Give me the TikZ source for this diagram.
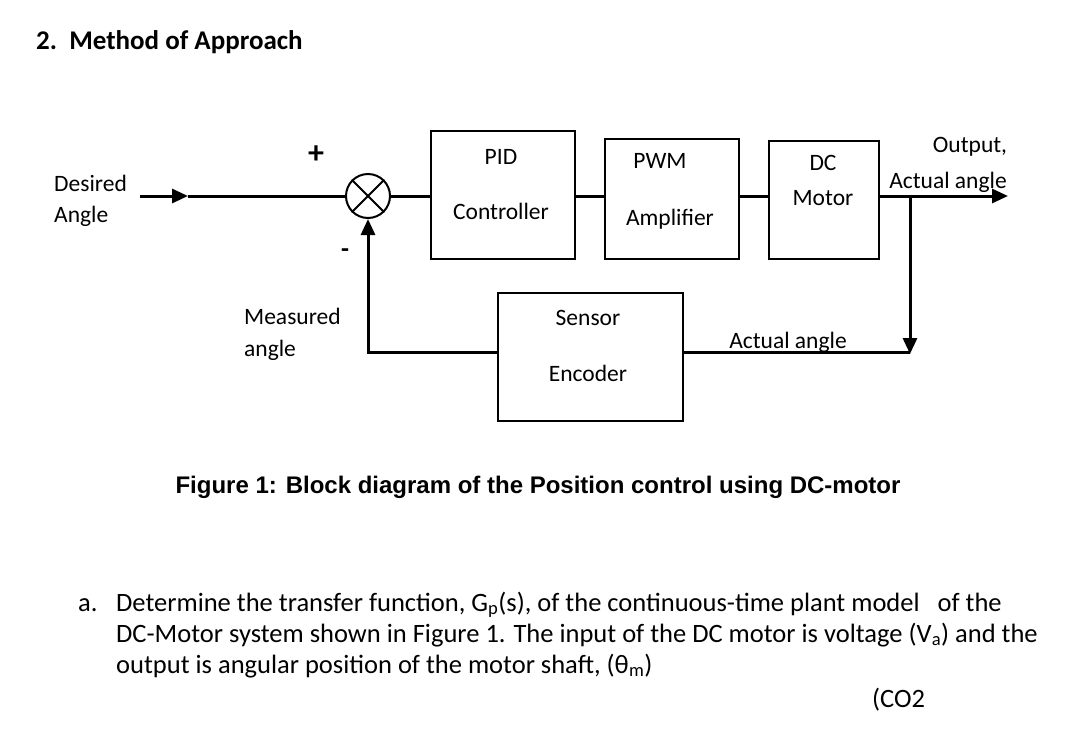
\documentclass[tikz,border=0pt]{standalone}
\usepackage{fontspec}
\setmainfont{Carlito}
\newfontfamily\arialf{Liberation Sans}
\usetikzlibrary{arrows.meta}
\begin{document}
\begin{tikzpicture}[x=1pt,y=-1pt,
  lbl/.style={font=\fontsize{23.5}{26}\selectfont,inner sep=0pt},
  blk/.style={draw,line width=1.5pt,anchor=north west},
  ln/.style={line width=3pt},
  arr/.style={-{Triangle[length=16pt,width=14pt]}}]
\useasboundingbox[fill=white] (0,0) rectangle (1080,734);
\node[font=\bfseries\fontsize{27}{30}\selectfont,anchor=west,inner sep=0pt] (title) at (36,42) {2.\ \ Method of Approach};
% blocks
\node[blk,minimum width=144pt,minimum height=128pt] (pid) at (430,130) {};
\node[blk,minimum width=134pt,minimum height=120pt] (pwm) at (604,138) {};
\node[blk,minimum width=110pt,minimum height=118pt] (dc) at (768,140) {};
\node[blk,minimum width=185pt,minimum height=128pt] (sen) at (497,292) {};
\node[lbl] (t1) at (501,157) {PID};
\node[lbl] (t2) at (501,211) {Controller};
\node[lbl] (t3) at (660,161) {PWM};
\node[lbl] (t4) at (670,219) {Amplifier};
\node[lbl] (t5) at (823,163) {DC};
\node[lbl] (t6) at (823,198) {Motor};
\node[lbl] (t7) at (588,318) {Sensor};
\node[lbl] (t8) at (588,373) {Encoder};
% summing junction
\node[draw,circle,line width=2pt,minimum size=44pt,inner sep=0pt] (sum) at (368,196) {};
\draw[line width=2pt] (sum.north west) -- (sum.south east) (sum.north east) -- (sum.south west);
% labels
\node[lbl,anchor=west] (d1) at (54,183) {Desired};
\node[lbl,anchor=west] (d2) at (54,216) {Angle};
\node[font=\bfseries\fontsize{32}{34}\selectfont,inner sep=0pt] (plus) at (316,155) {+};
\node[font=\bfseries\fontsize{26}{28}\selectfont,inner sep=0pt] (minus) at (345,253) {-};
\node[lbl,anchor=west] (m1) at (244,316) {Measured};
\node[lbl,anchor=west] (m2) at (244,350) {angle};
\node[lbl] (o1) at (970,147) {Output,};
\node[lbl] (o2) at (948,182) {Actual angle};
\node[lbl] (aa) at (788,342) {Actual angle};
% connectors
\coordinate (in) at (140,196);
\coordinate (inm) at (188,196);
\coordinate (out) at (1008,196);
\coordinate (tap) at (910,196);
\coordinate (corner) at (910,354);
\coordinate (fb) at (910,352);
\coordinate (fbl) at (368,352);
\draw[ln,arr] (in) -- (inm);
\draw[ln] (inm) -- (sum.west);
\draw[ln] (sum.east) -- (sum.east -| pid.west);
\draw[ln] (sum.east -| pid.east) -- (sum.east -| pwm.west);
\draw[ln] (sum.east -| pwm.east) -- (sum.east -| dc.west);
\draw[ln,arr] (sum.east -| dc.east) -- (out);
\draw[ln,arr] (tap) -- (corner);
\draw[ln] (fb) -- (fb -| sen.east);
\draw[ln,arr] (fb -| sen.west) -- (fbl) -- (sum.south);
% caption
\node[font=\arialf\bfseries\fontsize{24}{26}\selectfont,inner sep=0pt] (cap) at (538,487) {Figure 1: Block diagram of the Position control using DC-motor};
% paragraph
\begin{scope}[every node/.style={font=\fontsize{26.5}{29}\selectfont,anchor=base west,inner sep=0pt}]
\node (pa) at (78,611) {a.};
\node (p1) at (116,611) {Determine the transfer function, G\textsubscript{p}(s), of the continuous-time plant model \ \ of the};
\node (p2) at (116,642) {DC-Motor system shown in Figure 1. The input of the DC motor is voltage (V\textsubscript{a}) and the};
\node (p3) at (116,673) {output is angular position of the motor shaft, (θ\textsubscript{m})};
\node (co) at (872,707) {(CO2};
\end{scope}
\end{tikzpicture}
\end{document}
